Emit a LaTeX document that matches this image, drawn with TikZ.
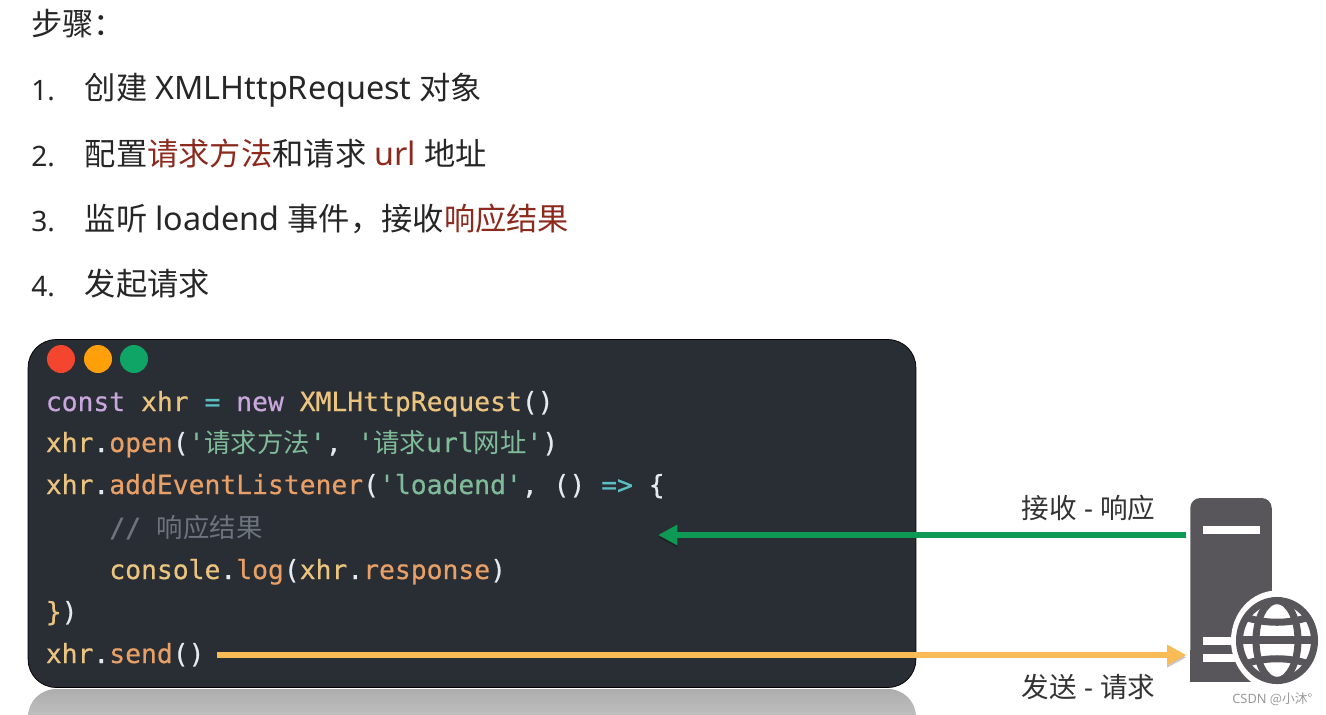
\documentclass[tikz,border=0pt]{standalone}
\usepackage{fontspec}
\setmainfont{Noto Sans}
\newfontfamily\cjk{Noto Sans CJK SC}
\newfontfamily\codefont[FakeBold=0.5]{DejaVu Sans Mono}
\usetikzlibrary{arrows.meta}
\definecolor{cardbg}{HTML}{292D34}
\definecolor{dotred}{HTML}{F4452F}
\definecolor{dotorange}{HTML}{FF9F0A}
\definecolor{dotgreen}{HTML}{0FA567}
\definecolor{kwpurple}{HTML}{C9A6DC}
\definecolor{varyellow}{HTML}{EBC57F}
\definecolor{optteal}{HTML}{5BC0C4}
\definecolor{fnorange}{HTML}{E8A066}
\definecolor{strgreen}{HTML}{7FBB98}
\definecolor{cmtgray}{HTML}{6E747E}
\definecolor{parenwhite}{HTML}{E6EAF0}
\definecolor{stepred}{HTML}{8C2A1E}
\definecolor{servergray}{HTML}{58565A}
\definecolor{recvgreen}{HTML}{0E9A55}
\definecolor{sendorange}{HTML}{F9BB55}
\newcommand{\fn}[1]{\textcolor{fnorange}{#1}}
\newcommand{\vr}[1]{\textcolor{varyellow}{#1}}
\newcommand{\st}[1]{\textcolor{strgreen}{#1}}
\newcommand{\rd}[1]{\textcolor{stepred}{#1}}
\newcommand{\lat}[1]{{\fontsize{18.4}{20}\selectfont #1}}
\tikzset{
  steptext/.style={anchor=base west,inner sep=0pt,text=black!85,font=\fontsize{17.8}{20}\selectfont},
  stepnum/.style={steptext,font=\fontsize{16}{20}\selectfont},
  codeline/.style={anchor=base west,inner sep=0pt,text=parenwhite,font=\codefont\fontsize{15}{15}\selectfont},
  arrowlabel/.style={anchor=base,inner sep=0pt,text=black!80,font=\fontsize{15.7}{18}\selectfont},
  flowline/.style={line width=3.7pt,-{Triangle[length=11pt,width=11pt]},
    preaction={draw=black,opacity=.22,transform canvas={yshift=-1.3pt}}},
  windowdot/.style={circle,minimum size=.56cm,inner sep=0pt},
  serverbox/.style={fill=servergray,rounded corners=.2cm,minimum width=1.63cm,minimum height=3.68cm,inner sep=0pt},
  globeline/.style={draw=servergray,line width=4pt}
}
\begin{document}
\begin{tikzpicture}[x=.02cm,y=-.02cm]
  \useasboundingbox (0,0) rectangle (1326,714);
  % steps
  \node[steptext] (title) at (31,35) {{\cjk 步骤：}};
  \node[stepnum] (num1) at (31,100) {1.};
  \node[steptext] (step1) at (84.5,99) {{\cjk 创建} \lat{XMLHttpRequest} {\cjk 对象}};
  \node[stepnum] (num2) at (31,166) {2.};
  \node[steptext] (step2) at (84.5,165) {{\cjk 配置\rd{请求方法}和请求} \rd{\lat{url}} {\cjk 地址}};
  \node[stepnum] (num3) at (31,231) {3.};
  \node[steptext] (step3) at (84.5,230) {{\cjk 监听} \lat{loadend} {\cjk 事件，接收\rd{响应结果}}};
  \node[stepnum] (num4) at (31,296) {4.};
  \node[steptext] (step4) at (84.5,295) {{\cjk 发起请求}};
  % reflection under the card
  \begin{scope}
    \clip (0,0) rectangle (1326,714);
    \shade[top color=black!32,bottom color=black!12,rounded corners=.56cm]
      (28,689) rectangle (916,770);
  \end{scope}
  % code card
  \node[draw=black,fill=cardbg,rounded corners=.56cm,minimum width=17.76cm,minimum height=6.96cm,inner sep=0pt]
    (card) at (472,513.5) {};
  \foreach \x/\c in {61/dotred,98/dotorange,134/dotgreen}
    \node[windowdot,fill=\c] (\c) at (\x,359) {};
  \node[codeline] (code1) at (45.5,411) {\textcolor{kwpurple}{const} \vr{xhr} \textcolor{optteal}{=} \textcolor{kwpurple}{new} \vr{XMLHttpRequest}()};
  \node[codeline] (code2) at (45.5,452) {\vr{xhr}.\fn{open}(\st{'{\cjk 请求方法}'}, \st{'{\cjk 请求}url{\cjk 网址}'})};
  \node[codeline] (code3) at (45.5,494) {\vr{xhr}.\fn{addEventListener}(\st{'loadend'}, () \textcolor{optteal}{=>} \{};
  \node[codeline,text=cmtgray] (code4) at (109,537) {// {\cjk 响应结果}};
  \node[codeline] (code5) at (109,579) {\vr{console}.\fn{log}(\vr{xhr}.\fn{response})};
  \node[codeline] (code6) at (45.5,621) {\vr{\}})};
  \node[codeline] (code7) at (45.5,663) {\vr{xhr}.\fn{send}()};
  % server
  \node[serverbox] (server) at (1231,590) {};
  \fill[servergray] (1190,650) rectangle (1272,682);
  \fill[white] (1203,526) rectangle (1260,534);
  \fill[white] (1203,637) rectangle (1245,645);
  \fill[white] (1203,654) rectangle (1245,662);
  \fill[white] (1277,640.5) ellipse [x radius=46,y radius=50];
  \draw[globeline] (1277,640.5) ellipse [x radius=37.5,y radius=40];
  \draw[globeline] (1277,640.5) ellipse [x radius=21,y radius=40];
  \draw[globeline] (1240,640) -- (1314,640);
  \draw[globeline] (1245,617) .. controls (1265,624) and (1289,624) .. (1309,617);
  \draw[globeline] (1245,664) .. controls (1265,657) and (1289,657) .. (1309,664);
  % connectors
  \coordinate (recvend) at (658,535);
  \coordinate (sendstart) at (217,655);
  \draw[flowline,recvgreen,shorten <=2pt] (server.west |- recvend) -- (recvend);
  \draw[flowline,sendorange,shorten >=2pt] (sendstart) -- (server.west |- sendstart);
  \node[arrowlabel] (recvlabel) at (1088.5,518) {{\cjk 接收} - {\cjk 响应}};
  \node[arrowlabel] (sendlabel) at (1088.5,697) {{\cjk 发送} - {\cjk 请求}};
  \node[anchor=base west,inner sep=0pt,text=black!40,font=\fontsize{7.3}{9}\selectfont] (mark) at (1232,703) {CSDN {\cjk @小沐°}};
\end{tikzpicture}
\end{document}
